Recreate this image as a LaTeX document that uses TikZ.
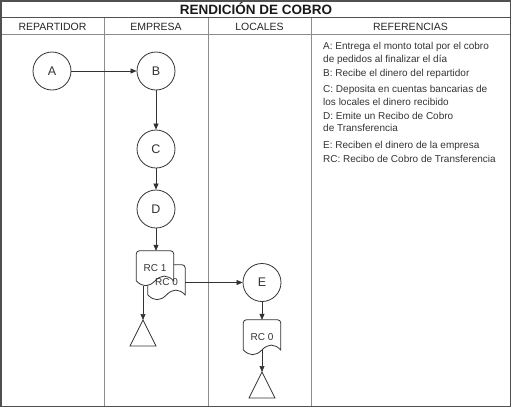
\documentclass[tikz,border=0pt]{standalone}
\usepackage{fontspec}
\setmainfont{Liberation Sans}
\usetikzlibrary{arrows.meta,calc}
\definecolor{ink}{HTML}{333333}
\definecolor{frame}{HTML}{505050}
\definecolor{rule}{HTML}{8C8C8C}
\newcommand\drawdoc[1]{%
  \filldraw[fill=white,draw=ink,line width=0.8pt]
    let \p1=(#1.south west), \p2=(#1.north east), \n1={0.3*(\y2-\y1)}, \n2={\x2-\x1} in
    (\x1,{\y1+0.5*\n1}) [rounded corners=3pt] -- (\x1,\y2) -- (\x2,\y2) [sharp corners] -- (\x2,{\y1+0.5*\n1})
    .. controls ({\x1+0.8333*\n2},{\y1+1.1*\n1}) and ({\x1+0.6667*\n2},{\y1+1.1*\n1}) .. ({\x1+0.5*\n2},{\y1+0.5*\n1})
    .. controls ({\x1+0.3333*\n2},{\y1-0.1*\n1}) and ({\x1+0.1667*\n2},{\y1-0.1*\n1}) .. (\x1,{\y1+0.5*\n1});
}
\begin{document}
\begin{tikzpicture}[x=1pt,y=-1pt,
  circ/.style={circle,draw=ink,line width=0.8pt,minimum size=38pt,inner sep=0pt,
    font=\fontsize{12.5}{14}\selectfont,text=ink},
  docbox/.style={rectangle,minimum width=37pt,minimum height=35pt,inner sep=0pt},
  doctext/.style={inner sep=0pt,font=\fontsize{10}{12}\selectfont,text=ink},
  flow/.style={-{Triangle[length=6pt,width=5pt]},draw=ink,line width=0.7pt},
  hdr/.style={anchor=base,inner sep=0pt,font=\fontsize{10.5}{12}\selectfont,text=black!85},
  reftxt/.style={anchor=base west,inner sep=0pt,font=\fontsize{10}{12}\selectfont,text=ink},
]
\useasboundingbox (0,0) rectangle (512,408);

% table frame
\draw[rule,line width=1pt] (104,17) -- (104,406);
\draw[rule,line width=1pt] (208,17) -- (208,406);
\draw[rule,line width=1pt] (311,17) -- (311,406);
\draw[rule,line width=1pt] (1,34) -- (510,34);
\draw[frame,line width=1pt] (1,17) -- (510,17);
\draw[frame,line width=1.3pt] (1,1) rectangle (510.5,406.5);

% titles
\node[anchor=base,inner sep=0pt,font=\bfseries\fontsize{13.5}{15}\selectfont,text=black!90] (title) at (256,14) {RENDICIÓN DE COBRO};
\node[hdr] (h1) at (52.5,30) {REPARTIDOR};
\node[hdr] (h2) at (156,30) {EMPRESA};
\node[hdr] (h3) at (259.5,30) {LOCALES};
\node[hdr] (h4) at (410.5,30) {REFERENCIAS};

% references
\node[reftxt] (r1) at (323,49) {A: Entrega el monto total por el cobro};
\node[reftxt] (r2) at (323,62) {de pedidos al finalizar el día};
\node[reftxt] (r3) at (323,76) {B: Recibe el dinero del repartidor};
\node[reftxt] (r4) at (323,92) {C: Deposita en cuentas bancarias de};
\node[reftxt] (r5) at (323,105) {los locales el dinero recibido};
\node[reftxt] (r6) at (323,119) {D: Emite un Recibo de Cobro};
\node[reftxt] (r7) at (323,131) {de Transferencia};
\node[reftxt] (r8) at (323,148) {E: Reciben el dinero de la empresa};
\node[reftxt] (r9) at (323,162) {RC: Recibo de Cobro de Transferencia};

% flow nodes
\node[circ] (a) at (52,71) {A};
\node[circ] (b) at (156,71) {B};
\node[circ] (c) at (156,149) {C};
\node[circ] (d) at (156,209) {D};
\node[circ] (e) at (262,282.5) {E};

\path (166.5,282.5) node[docbox] (rc0e) {};
\path (155,268.5) node[docbox] (rc1) {};
\path (262,337.5) node[docbox] (rc0l) {};
\drawdoc{rc0e}
\drawdoc{rc1}
\drawdoc{rc0l}
\node[doctext] (rc0et) at (rc0e) {RC 0};
\node[doctext] (rc1t) at (rc1) {RC 1};
\node[doctext] (rc0lt) at (rc0l) {RC 0};

\coordinate (t1) at (143,320);
\coordinate (t2) at (262,372);
\draw[ink,line width=0.8pt] (t1) -- ++(13,26) -- ++(-26,0) -- cycle;
\draw[ink,line width=0.8pt] (t2) -- ++(13,26) -- ++(-26,0) -- cycle;

% connectors
\draw[flow] (a) -- (b);
\draw[flow] (b) -- (c);
\draw[flow] (c) -- (d);
\draw[flow] (d.south) -- (d.south |- rc1.north);
\draw[flow] (rc0e.east) -- (e.west);
\draw[flow] (e) -- (rc0l);
\draw[flow] (rc1.south -| t1) -- (t1);
\draw[flow] ([yshift=5pt]rc0l.south) -- (t2);
\end{tikzpicture}
\end{document}
